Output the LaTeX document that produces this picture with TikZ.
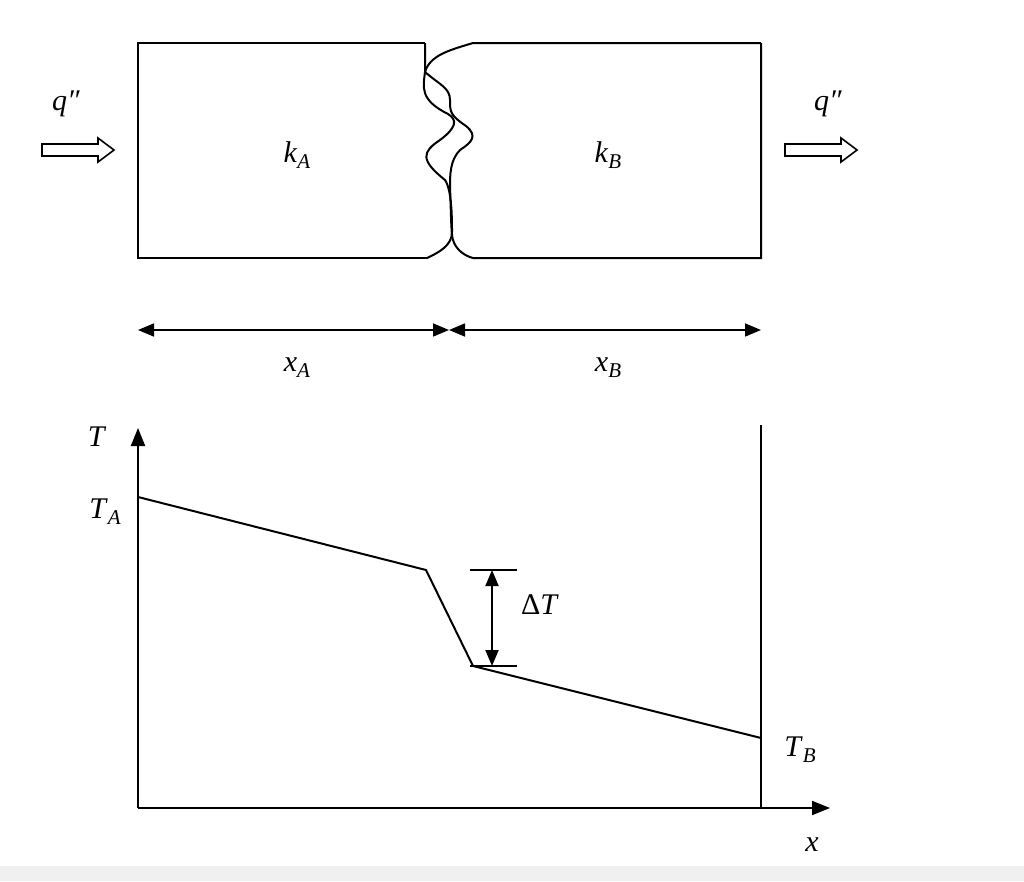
\documentclass[tikz,border=0pt]{standalone}
\usepackage{fontspec}
\setmainfont{Liberation Serif}
\usetikzlibrary{arrows.meta}
\newcommand{\lsub}[2]{\textit{#1}\raisebox{-6pt}{\fontsize{21}{24}\selectfont\textit{#2}}}
\begin{document}
\begin{tikzpicture}[x=1pt,y=-1pt,line width=2pt,
  lbl/.style={font=\fontsize{30}{34}\selectfont},
  dim/.style={{Triangle[length=16pt,width=13pt]}-{Triangle[length=16pt,width=13pt]}},
  ax/.style={-{Triangle[length=18pt,width=14pt]}},
  hollow/.style={line width=1.6pt}]
\useasboundingbox (0,0) rectangle (1024,881);
\fill[black!6] (0,866) rectangle (1024,881);
% blocks
\draw (425,43) -- (138,43) -- (138,258) -- (427,258);
\draw (425,43) -- (425,72) .. controls (423,88) and (420,100) .. (448,114) .. controls (458,120) and (456,128) .. (440,140) .. controls (422,152) and (420,160) .. (445,180) .. controls (452,190) and (452,220) .. (452,232) .. controls (452,245) and (440,252) .. (427,258);
\draw (761,43) -- (473,43) .. controls (450,50) and (430,55) .. (425,72) .. controls (440,85) and (450,88) .. (450,100) .. controls (450,112) and (450,115) .. (466,126) .. controls (478,136) and (472,142) .. (460,150) .. controls (450,160) and (450,175) .. (450,187) .. controls (451,210) and (451,235) .. (453,240) .. controls (456,250) and (465,256) .. (473,258) -- (761,258) -- (761,43);
\node[lbl] (kA) at (297,155) {\lsub{k}{A}};
\node[lbl] (kB) at (608,155) {\lsub{k}{B}};
% hollow arrows
\draw[hollow] (42,144) -- (98,144) -- (98,138) -- (114,150) -- (98,162) -- (98,156) -- (42,156) -- cycle;
\draw[hollow] (785,144) -- (841,144) -- (841,138) -- (857,150) -- (841,162) -- (841,156) -- (785,156) -- cycle;
\node[lbl] (q1) at (66,104) {\textit{q″}};
\node[lbl] (q2) at (828,104) {\textit{q″}};
% dimensions
\coordinate (d0) at (138,330); \coordinate (d1) at (449,330); \coordinate (d2) at (761,330);
\draw[dim,line width=1.6pt] (d0) -- (d1);
\draw[dim,line width=1.6pt] (d1) -- (d2);
\node[lbl] (xA) at (297,368) {\lsub{x}{A}};
\node[lbl] (xB) at (608,368) {\lsub{x}{B}};
% graph
\coordinate (O) at (138,808);
\draw[ax] (O) -- (138,428);
\draw[ax] (O) -- (830,808);
\draw (761,425) -- (761,808);
\node[lbl] (T) at (97,437) {\textit{T}};
\node[lbl] (x) at (812,845) {\textit{x}};
\node[lbl] (TA) at (105,512) {\lsub{T}{A}};
\node[lbl] (TB) at (800,750) {\lsub{T}{B}};
\draw (138,497) -- (426,570) -- (473,666) -- (761,738);
\draw (470,570) -- (517,570) (470,666) -- (517,666);
\draw[dim] (492,570) -- (492,666);
\node[lbl] (dT) at (540,605) {Δ\textit{T}};
\end{tikzpicture}
\end{document}
